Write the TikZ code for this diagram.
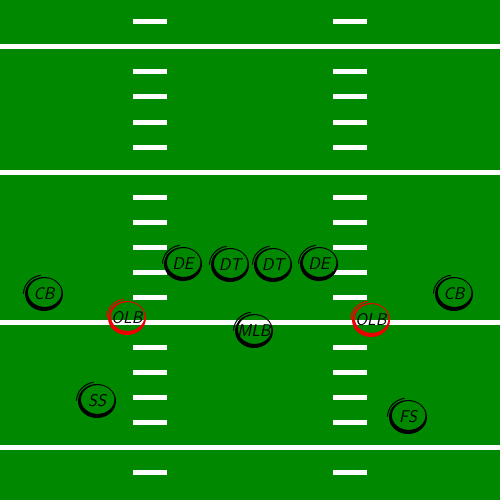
\documentclass[tikz,border=0pt]{standalone}
\definecolor{turf}{HTML}{008800}
\definecolor{olbred}{HTML}{EE0000}
\tikzset{
  yardline/.style={white, line width=5pt},
  hashmark/.style={white, line width=5pt},
  player/.style={inner sep=0pt, font=\sffamily\slshape\fontsize{17}{17}\selectfont, text=black},
}
\newcommand\ringaround[2]{%
  \begin{scope}[shift={(#1.center)}, x=1pt, y=1pt]
    \fill[#2, even odd rule] (0,0) ellipse [x radius=19pt, y radius=17pt]
                             (0.7,1.5) ellipse [x radius=16.8pt, y radius=14.4pt];
    \draw[#2, line width=1pt, line cap=round] (100:20.5 and 19) arc[start angle=100, end angle=178, x radius=20.5pt, y radius=19pt];
  \end{scope}}
\begin{document}
\begin{tikzpicture}[x=1pt, y=-1pt]
  \fill[turf] (0,0) rectangle (500,500);
  \useasboundingbox (0,0) rectangle (500,500);
  % yard lines
  \foreach \yy/\nm in {47/ya,172/yb,322/yc,447/yd} {
    \coordinate (\nm l) at (0,\yy);
    \coordinate (\nm r) at (500,\yy);
    \draw[yardline] (\nm l) -- (\nm r);
  }
  % hash marks
  \foreach \yy in {22,72,97,122,147,197,222,247,272,297,347,372,397,422,472} {
    \draw[hashmark] (133,\yy) -- (167,\yy);
    \draw[hashmark] (333,\yy) -- (367,\yy);
  }
  % players
  \node[player] (cbl) at (44,294) {CB};
  \node[player] (olbl) at (127,318) {OLB};
  \node[player] (del) at (183,264) {DE};
  \node[player] (dtl) at (230,265) {DT};
  \node[player] (dtr) at (273,265) {DT};
  \node[player] (der) at (319,264) {DE};
  \node[player] (mlb) at (254,331) {MLB};
  \node[player] (olbr) at (371,320) {OLB};
  \node[player] (cbr) at (454,294) {CB};
  \node[player] (ss) at (97,401) {SS};
  \node[player] (fs) at (408,417) {FS};
  \foreach \p in {cbl,del,dtl,dtr,der,mlb,cbr,ss,fs} { \ringaround{\p}{black} }
  \ringaround{olbl}{olbred}
  \ringaround{olbr}{olbred}
\end{tikzpicture}
\end{document}
